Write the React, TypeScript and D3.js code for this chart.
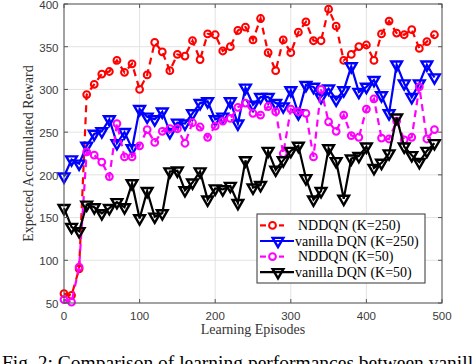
import React from "react";
import * as d3 from "d3";

const W = 474;
const H = 364;
const PLOT = { left: 64, right: 442, top: 4, bottom: 303 };

const episodes = d3.range(0, 500, 10);

const nddqn250 = [
  61, 59, 90, 294, 306, 318, 321, 334, 320, 330,
  300, 317, 355, 344, 322, 341, 339, 357, 335, 365,
  364, 345, 350, 369, 373, 358, 383, 343, 322, 358,
  343, 367, 379, 357, 357, 394, 374, 334, 341, 350,
  352, 334, 365, 380, 366, 364, 370, 348, 356, 364,
];
const vanilla250 = [
  198, 218, 213, 234, 248, 251, 265, 237, 250, 231,
  277, 268, 265, 274, 250, 261, 260, 272, 284, 286,
  265, 268, 286, 260, 302, 282, 291, 291, 284, 280,
  299, 272, 305, 303, 291, 301, 288, 299, 327, 297,
  303, 311, 293, 272, 329, 307, 291, 307, 329, 314,
];
const nddqn50 = [
  54, 51, 92, 227, 223, 215, 198, 260, 221, 221,
  234, 253, 238, 251, 254, 254, 237, 261, 256, 244,
  257, 263, 266, 279, 284, 272, 270, 280, 274, 225,
  277, 274, 272, 221, 300, 262, 251, 270, 246, 244,
  277, 289, 243, 242, 263, 241, 244, 303, 242, 253,
];
const vanilla50 = [
  161, 139, 134, 165, 162, 155, 161, 168, 162, 190,
  149, 181, 151, 155, 204, 205, 182, 191, 204, 171,
  184, 183, 187, 167, 217, 185, 188, 228, 206, 217,
  228, 234, 196, 171, 181, 231, 216, 172, 219, 222,
  233, 208, 214, 225, 267, 233, 223, 215, 228, 237,
];

const xTicks = [0, 100, 200, 300, 400, 500];
const yTicks = [50, 100, 150, 200, 250, 300, 350, 400];

const series = [
  { name: "NDDQN (K=250)", values: nddqn250, color: "#ff0000", dashed: true, marker: "circle" },
  { name: "vanilla DQN (K=250)", values: vanilla250, color: "#0000ff", dashed: false, marker: "tri" },
  { name: "NDDQN (K=50)", values: nddqn50, color: "#ff00ff", dashed: true, marker: "circle" },
  { name: "vanilla DQN (K=50)", values: vanilla50, color: "#000000", dashed: false, marker: "tri" },
];

const SANS = "'Liberation Sans', Arial, sans-serif";
const SERIF = "'Liberation Serif', 'Times New Roman', serif";

const triPath = d3.symbol(d3.symbolTriangle).size(50)() as string;

const Marker = ({ kind, x, y, color }: { kind: string; x: number; y: number; color: string }) =>
  kind === "circle" ? (
    <circle cx={x} cy={y} r={3.4} fill="none" stroke={color} strokeWidth={2} />
  ) : (
    <path
      d={triPath}
      transform={`translate(${x},${y}) rotate(180)`}
      fill="none"
      stroke={color}
      strokeWidth={2.4}
      strokeLinejoin="miter"
    />
  );

export default function App() {
  const x = d3.scaleLinear().domain([0, 500]).range([PLOT.left, PLOT.right]);
  const y = d3.scaleLinear().domain([50, 400]).range([PLOT.bottom, PLOT.top]);
  const line = d3
    .line<number>()
    .x((_, i) => x(episodes[i]))
    .y((d) => y(d));

  const legendRows = [230, 245.6, 261.2, 276.8];

  return (
    <svg
      width={W}
      height={H}
      style={{ position: "absolute", left: 0, top: 0, background: "#fff" }}
    >
      <rect x={0} y={0} width={W} height={H} fill="#fff" />

      {/* grid */}
      {xTicks.map((t) => (
        <line key={"gx" + t} x1={x(t)} x2={x(t)} y1={PLOT.top} y2={PLOT.bottom} stroke="#e3e3e3" />
      ))}
      {yTicks.map((t) => (
        <line key={"gy" + t} x1={PLOT.left} x2={PLOT.right} y1={y(t)} y2={y(t)} stroke="#e3e3e3" />
      ))}

      {/* series */}
      {series.map((s) => (
        <g key={s.name}>
          <path
            d={line(s.values) as string}
            fill="none"
            stroke={s.color}
            strokeWidth={2.2}
            strokeDasharray={s.dashed ? "7,5" : undefined}
          />
          {s.values.map((v, i) => (
            <Marker key={i} kind={s.marker} x={x(episodes[i])} y={y(v)} color={s.color} />
          ))}
        </g>
      ))}

      {/* axes box + ticks */}
      <rect
        x={PLOT.left}
        y={PLOT.top}
        width={PLOT.right - PLOT.left}
        height={PLOT.bottom - PLOT.top}
        fill="none"
        stroke="#555"
        strokeWidth={1}
      />
      {xTicks.map((t) => (
        <g key={"tx" + t}>
          <line x1={x(t)} x2={x(t)} y1={PLOT.bottom} y2={PLOT.bottom - 4} stroke="#555" />
          <line x1={x(t)} x2={x(t)} y1={PLOT.top} y2={PLOT.top + 4} stroke="#555" />
          <text
            x={x(t)}
            y={319.5}
            textAnchor="middle"
            fontFamily={SANS}
            fontSize={11.5}
            fill="#3a3a3a"
          >
            {t}
          </text>
        </g>
      ))}
      {yTicks.map((t) => (
        <g key={"ty" + t}>
          <line x1={PLOT.left} x2={PLOT.left + 4} y1={y(t)} y2={y(t)} stroke="#555" />
          <line x1={PLOT.right} x2={PLOT.right - 4} y1={y(t)} y2={y(t)} stroke="#555" />
          <text
            x={58.5}
            y={y(t)}
            dy="0.42em"
            textAnchor="end"
            fontFamily={SANS}
            fontSize={11.5}
            fill="#3a3a3a"
          >
            {t}
          </text>
        </g>
      ))}

      {/* axis labels */}
      <text
        x={(PLOT.left + PLOT.right) / 2}
        y={333.5}
        textAnchor="middle"
        fontFamily={SERIF}
        fontSize={14}
        fill="#333"
      >
        Learning Episodes
      </text>
      <text
        transform={`translate(33,${(PLOT.top + PLOT.bottom) / 2}) rotate(-90)`}
        textAnchor="middle"
        fontFamily={SERIF}
        fontSize={14}
        fill="#333"
      >
        Expected Accumulated Reward
      </text>

      {/* legend */}
      <rect x={257} y={214} width={168} height={69} fill="#fff" stroke="#333" strokeWidth={1} />
      {series.map((s, i) => {
        const cy = legendRows[i] - 4.6;
        return (
          <g key={"lg" + s.name}>
            {s.dashed ? (
              <>
                <line x1={260} x2={266} y1={cy} y2={cy} stroke={s.color} strokeWidth={2.2} />
                <line x1={279} x2={284} y1={cy} y2={cy} stroke={s.color} strokeWidth={2.2} />
                <Marker kind={s.marker} x={272.5} y={cy} color={s.color} />
              </>
            ) : (
              <>
                <line x1={260} x2={294} y1={cy} y2={cy} stroke={s.color} strokeWidth={2.2} />
                <Marker kind={s.marker} x={278} y={cy} color={s.color} />
              </>
            )}
            <text
              x={s.dashed ? 298 : 295}
              y={legendRows[i]}
              fontFamily={SERIF}
              fontSize={14}
              fill="#000"
            >
              {s.name}
            </text>
          </g>
        );
      })}

      {/* caption (cut by the image bottom, as in the reference) */}
      <text x={2} y={369} fontFamily={SERIF} fontSize={19.5} fill="#000">
        Fig. 2: Comparison of learning performances between vanilla
      </text>
    </svg>
  );
}
